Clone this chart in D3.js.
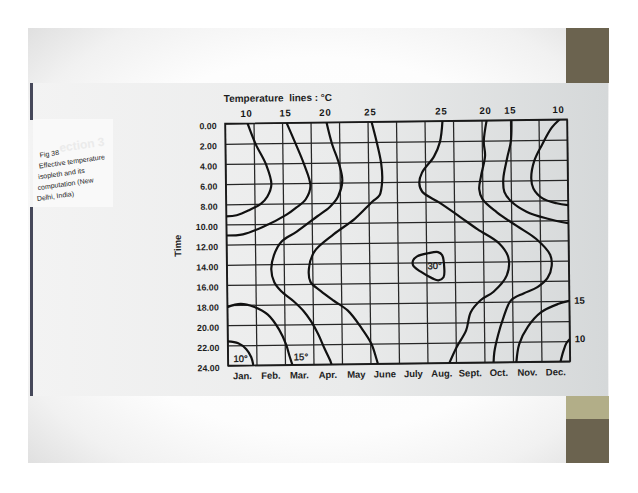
<!DOCTYPE html>
<html>
<head>
<meta charset="utf-8">
<title>Effective temperature isopleth - New Delhi</title>
<script src="https://cdn.jsdelivr.net/npm/d3@7"></script>
<style>
  html, body { margin: 0; padding: 0; background: #fff; }
  svg { display: block; }
  text { font-family: "Liberation Sans", Arial, Helvetica, sans-serif; }
</style>
</head>
<body>
<svg id="chart"></svg>
<script>
// Month columns along the bottom
const months = ["Jan.", "Feb.", "Mar.", "Apr.", "May", "June",
                "July", "Aug.", "Sept.", "Oct.", "Nov.", "Dec."];

// Time of day, every two hours
const hours = [0, 2, 4, 6, 8, 10, 12, 14, 16, 18, 20, 22, 24];

// Caption printed beside the figure
const captionLines = ["Fig 38", "Effective temperature", "isopleth and its",
                      "computation (New", "Delhi, India)"];

// Isopleths as [month position, hour]
// (month position 0 = start of Jan., 12 = end of Dec.)
const iso10NW = [[0.79, 0], [1.07, 2.1], [1.42, 4.1], [1.60, 6.1], [1.45, 7.3],
                 [1.22, 8.0], [0.82, 8.6], [0.37, 9.1], [0, 9.2]];
const iso15NW = [[2.16, 0], [2.47, 2.1], [2.75, 4.1], [2.97, 6.3], [2.80, 7.6],
                 [2.47, 8.4], [2.12, 9.1], [1.28, 10.3], [0.58, 11.0], [0, 11.1]];
const iso20W = [[3.56, 0], [3.74, 2.1], [3.98, 4.1], [4.09, 5.8], [3.93, 7.4],
                [3.64, 8.4], [3.20, 9.3], [2.47, 10.8], [1.92, 11.8], [1.66, 13.1],
                [1.56, 14.5], [1.66, 15.8], [1.90, 16.7], [2.33, 17.7], [2.68, 18.7],
                [2.93, 19.7], [3.18, 21.0], [3.39, 22.4], [3.60, 23.7], [3.63, 24]];
const iso25W = [[5.14, 0], [5.32, 2.1], [5.46, 4.1], [5.49, 5.8], [5.39, 7.3],
                [5.14, 7.9], [4.51, 9.6], [3.77, 11.1], [3.08, 12.8], [2.88, 14.5],
                [2.93, 15.8], [3.28, 16.7], [3.74, 17.7], [4.23, 18.7], [4.69, 20.4],
                [5.04, 22.0], [5.21, 23.5], [5.26, 24]];
const iso30 = [[6.68, 13.4], [7.07, 13.1], [7.42, 13.0], [7.56, 13.3], [7.63, 14.6],
               [7.60, 15.5], [7.42, 15.8], [7.21, 15.6], [6.79, 14.9], [6.54, 14.3],
               [6.54, 13.8]];
const iso25E = [[7.63, 0], [7.53, 2.1], [7.32, 3.5], [6.89, 5.1], [6.79, 6.1],
                [6.89, 7.0], [7.49, 8.1], [8.19, 9.5], [8.82, 10.8], [9.56, 12.2],
                [9.88, 13.6], [9.82, 15.4], [9.35, 17.0], [8.90, 17.8], [8.54, 19.0],
                [8.37, 20.8], [8.02, 22.5], [7.77, 24]];
const iso20E = [[9.18, 0], [9.07, 2.1], [9.11, 3.5], [8.96, 5.5], [8.89, 6.8],
                [9.00, 7.8], [9.49, 9.1], [10.19, 10.5], [10.86, 11.8], [11.35, 13.4],
                [11.40, 14.5], [11.25, 15.7], [10.89, 16.6], [10.40, 17.2], [9.95, 17.9],
                [9.67, 19.7], [9.49, 21.3], [9.35, 23.0], [9.32, 24]];
const iso15NE = [[10.05, 0], [10.02, 2.1], [9.88, 3.8], [9.74, 5.8], [9.77, 7.1],
                 [10.02, 8.1], [10.54, 9.1], [11.25, 9.8], [12, 10.3]];
const iso10NE = [[11.74, 0], [11.46, 0.8], [11.11, 2.5], [10.83, 4.1], [10.72, 5.8],
                 [10.79, 6.8], [11.11, 7.8], [11.60, 8.3], [12, 8.5]];
const iso15SE = [[12, 18.0], [11.60, 18.3], [11.00, 19.1], [10.54, 20.5],
                 [10.23, 22.2], [10.12, 24]];
const iso10SE = [[12, 21.8], [11.88, 22.2], [11.77, 23.0], [11.67, 24]];
const iso15SW = [[0, 18.2], [0.47, 17.9], [0.93, 18.2], [1.42, 19.0], [1.81, 20.5],
                 [2.05, 22.0], [2.16, 23.1], [2.26, 24]];
const iso10SW = [[0, 21.6], [0.37, 21.8], [0.65, 22.4], [0.82, 23.2], [0.89, 24]];

// value + where its number is printed
const isopleths = [
    { value: 10, label: "top", points: iso10NW },
    { value: 15, label: "top", points: iso15NW },
    { value: 20, label: "top", points: iso20W },
    { value: 25, label: "top", points: iso25W },
    { value: 30, label: "inside", points: iso30, closed: true },
    { value: 25, label: "top", points: iso25E },
    { value: 20, label: "top", points: iso20E },
    { value: 15, label: "top", points: iso15NE },
    { value: 10, label: "top", points: iso10NE },
    { value: 15, label: "right", points: iso15SE },
    { value: 10, label: "right", points: iso10SE },
    { value: 15, label: "bottomRight", points: iso15SW },
    { value: 10, label: "bottomLeft", points: iso10SW }
];

const width = 638;
const height = 493;
const plotLeft = 226.5, plotRight = 568.5, plotTop = 121.5, plotBottom = 363.5;

const svg = d3.select("#chart")
    .attr("width", width)
    .attr("height", height);

const defs = svg.append("defs");

// slide vignette
const vignette = defs.append("radialGradient")
    .attr("id", "vignette")
    .attr("cx", "50%").attr("cy", "50%").attr("r", "72%");
vignette.append("stop").attr("offset", "0%").attr("stop-color", "#ffffff");
vignette.append("stop").attr("offset", "60%").attr("stop-color", "#fdfdfd");
vignette.append("stop").attr("offset", "82%").attr("stop-color", "#f1f1f1");
vignette.append("stop").attr("offset", "100%").attr("stop-color", "#dedede");

// photographed page
const paper = defs.append("linearGradient")
    .attr("id", "paper")
    .attr("x1", "0%").attr("y1", "0%").attr("x2", "100%").attr("y2", "0%");
paper.append("stop").attr("offset", "0%").attr("stop-color", "#f3f3f3");
paper.append("stop").attr("offset", "55%").attr("stop-color", "#eaebeb");
paper.append("stop").attr("offset", "100%").attr("stop-color", "#d5d8d9");

defs.append("clipPath").attr("id", "plot-clip")
    .append("rect")
    .attr("x", plotLeft).attr("y", plotTop)
    .attr("width", plotRight - plotLeft).attr("height", plotBottom - plotTop);

svg.append("rect").attr("width", width).attr("height", height).attr("fill", "#fff");
svg.append("rect")
    .attr("x", 28).attr("y", 28).attr("width", 581).attr("height", 435)
    .attr("fill", "url(#vignette)");

// olive slide blocks on the right
svg.append("rect").attr("x", 566).attr("y", 28).attr("width", 43).attr("height", 55).attr("fill", "#6b634f");
svg.append("rect").attr("x", 566).attr("y", 396).attr("width", 43).attr("height", 23).attr("fill", "#b2ae88");
svg.append("rect").attr("x", 566).attr("y", 419).attr("width", 43).attr("height", 44).attr("fill", "#6b634f");

// the page
svg.append("rect")
    .attr("x", 30).attr("y", 83).attr("width", 578).attr("height", 313)
    .attr("fill", "url(#paper)");

// caption box and page edge
svg.append("rect").attr("x", 33).attr("y", 119).attr("width", 80).attr("height", 88).attr("fill", "#f9f9f9");
svg.append("rect").attr("x", 30).attr("y", 83).attr("width", 3).attr("height", 37).attr("fill", "#46485a");
svg.append("rect").attr("x", 30).attr("y", 207).attr("width", 3).attr("height", 189).attr("fill", "#46485a");

// faint show-through from the other side of the page
svg.append("text")
    .attr("transform", "translate(60,152) rotate(-8)")
    .attr("font-size", 12).attr("font-weight", "bold")
    .attr("fill", "#ebebeb")
    .text("ection 3");

// caption
const caption = svg.append("g");
caption.selectAll("text")
    .data(captionLines)
    .join("text")
    .attr("transform", (d, i) => `translate(${40 - i * 0.7},${157.5 + i * 10.9}) rotate(-8)`)
    .attr("font-size", 7)
    .attr("fill", "#262626")
    .text(d => d);

// chart, slightly tilted like the photographed page
const cx = (plotLeft + plotRight) / 2, cy = (plotTop + plotBottom) / 2;
const chart = svg.append("g").attr("transform", `rotate(-0.7,${cx},${cy})`);

const x = d3.scaleLinear().domain([0, 12]).range([plotLeft, plotRight]);
const xMonth = d3.scaleBand().domain(months).range([plotLeft, plotRight]);
const y = d3.scaleLinear().domain([0, 24]).range([plotTop, plotBottom]);

// vertical grid (month boundaries)
chart.append("g")
    .attr("transform", `translate(0,${plotTop})`)
    .call(d3.axisTop(x).tickValues(d3.range(0, 13)).tickSize(-(plotBottom - plotTop)).tickFormat(""))
    .call(g => g.select(".domain").remove())
    .selectAll("line")
    .attr("stroke", "#262626")
    .attr("stroke-width", 1.25);

// horizontal grid (every two hours)
chart.append("g")
    .attr("transform", `translate(${plotLeft},0)`)
    .call(d3.axisLeft(y).tickValues(hours).tickSize(-(plotRight - plotLeft)).tickFormat(""))
    .call(g => g.select(".domain").remove())
    .selectAll("line")
    .attr("stroke", "#262626")
    .attr("stroke-width", 1.25);

chart.append("rect")
    .attr("x", plotLeft).attr("y", plotTop)
    .attr("width", plotRight - plotLeft).attr("height", plotBottom - plotTop)
    .attr("fill", "none")
    .attr("stroke", "#1a1a1a")
    .attr("stroke-width", 1.6);

// time labels
const yAxis = chart.append("g")
    .attr("transform", `translate(${plotLeft},0)`)
    .call(d3.axisLeft(y).tickValues(hours).tickFormat(d => d.toFixed(2)).tickSize(0).tickPadding(8.5));
yAxis.select(".domain").remove();
yAxis.selectAll("text")
    .attr("y", 2)
    .attr("font-family", "Liberation Sans, Arial, sans-serif")
    .attr("font-size", 8.8)
    .attr("font-weight", "bold")
    .attr("fill", "#1e1e1e");

// month labels
const xAxis = chart.append("g")
    .attr("transform", `translate(0,${plotBottom})`)
    .call(d3.axisBottom(xMonth).tickSize(0).tickPadding(7));
xAxis.select(".domain").remove();
xAxis.selectAll("text")
    .attr("font-family", "Liberation Sans, Arial, sans-serif")
    .attr("font-size", 9.5)
    .attr("font-weight", "bold")
    .attr("fill", "#1e1e1e");

chart.append("text")
    .attr("transform", `translate(181,${y(12) + 0.5}) rotate(-90)`)
    .attr("text-anchor", "middle")
    .attr("font-size", 9.5)
    .attr("font-weight", "bold")
    .attr("fill", "#1e1e1e")
    .text("Time");

chart.append("text")
    .attr("x", plotLeft - 1)
    .attr("y", plotTop - 21.5)
    .attr("font-size", 10)
    .attr("font-weight", "bold")
    .attr("fill", "#1e1e1e")
    .style("white-space", "pre")
    .text("Temperature  lines : °C");

// isopleths
const line = d3.line()
    .x(d => x(d[0]))
    .y(d => y(d[1]))
    .curve(d3.curveCatmullRom.alpha(0.5));
const loop = d3.line()
    .x(d => x(d[0]))
    .y(d => y(d[1]))
    .curve(d3.curveCatmullRomClosed.alpha(0.5));

chart.append("g")
    .attr("clip-path", "url(#plot-clip)")
    .selectAll("path")
    .data(isopleths)
    .join("path")
    .attr("d", d => (d.closed ? loop : line)(d.points))
    .attr("fill", "none")
    .attr("stroke", "#111")
    .attr("stroke-width", 2.2)
    .attr("stroke-linejoin", "round");

// isopleth values
const labels = chart.append("g")
    .attr("fill", "#151515");

isopleths.forEach(d => {
    const first = d.points[0];
    const last = d.points[d.points.length - 1];
    if (d.label === "top") {
        labels.append("text")
            .attr("x", x(first[0]) - 1)
            .attr("y", plotTop - 6.5)
            .attr("text-anchor", "middle")
            .attr("font-size", 9.5)
            .attr("font-weight", "bold")
            .attr("letter-spacing", 0.8)
            .text(d.value);
    } else if (d.label === "right") {
        labels.append("text")
            .attr("x", plotRight + 5)
            .attr("y", y(first[1]) + 3)
            .attr("font-size", 9.5)
            .attr("font-weight", "bold")
            .text(d.value);
    } else if (d.label === "inside") {
        const c = d3.polygonCentroid(d.points.map(p => [x(p[0]), y(p[1])]));
        labels.append("text")
            .attr("x", c[0] + 4)
            .attr("y", c[1] + 4)
            .attr("text-anchor", "middle")
            .attr("font-size", 9.5)
            .attr("stroke", "#151515")
            .attr("stroke-width", 0.3)
            .text(d.value + "°");
    } else if (d.label === "bottomLeft") {
        labels.append("text")
            .attr("x", x(last[0]) - 5.5)
            .attr("y", plotBottom - 3.5)
            .attr("text-anchor", "end")
            .attr("font-size", 9.5)
            .attr("stroke", "#151515")
            .attr("stroke-width", 0.3)
            .text(d.value + "°");
    } else if (d.label === "bottomRight") {
        labels.append("text")
            .attr("x", x(last[0]) + 1.5)
            .attr("y", plotBottom - 4.5)
            .attr("font-size", 9.5)
            .attr("stroke", "#151515")
            .attr("stroke-width", 0.3)
            .text(d.value + "°");
    }
});
</script>
</body>
</html>
